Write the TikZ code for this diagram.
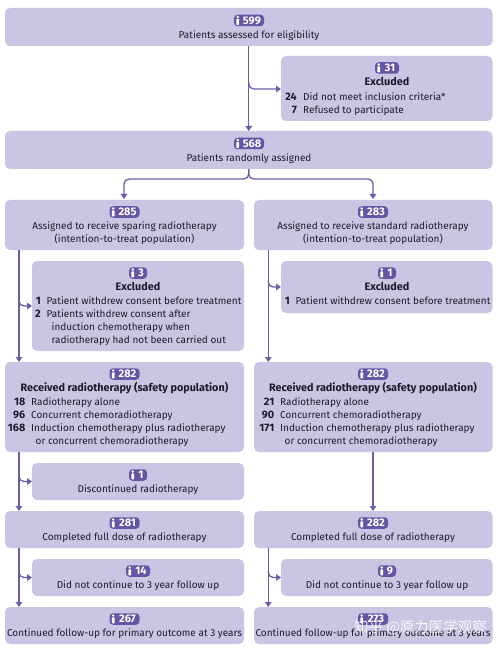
\documentclass[tikz,border=0pt]{standalone}
\usepackage{fontspec}
\setmainfont{Fira Sans}[Scale=1]
\newfontfamily\cjkfont{Noto Sans CJK SC}
\usetikzlibrary{arrows.meta,calc}
\definecolor{boxfill}{HTML}{CAC5E2}
\definecolor{linecol}{HTML}{6A5CA6}
\definecolor{badgecol}{HTML}{6655A5}
\definecolor{inkcol}{HTML}{1E1A30}
\tikzset{
  x=1pt,y=-1pt,
  panel/.style={fill=boxfill,rounded corners=5pt,inner sep=0pt,outer sep=0pt},
  badge/.style={fill=badgecol,rounded corners=3.5pt,text=white,font=\fontsize{11}{11}\selectfont\bfseries,inner sep=0pt,minimum height=11.5pt,text height=7.5pt,text depth=0pt,align=left},
  tx/.style={font=\fontsize{10}{11}\selectfont,text=inkcol,inner sep=0pt,text height=7pt,text depth=0pt},
  txb/.style={tx,font=\fontsize{10.8}{11}\selectfont\bfseries},
  num/.style={txb,anchor=base east},
  item/.style={tx,anchor=base west},
  flow/.style={draw=linecol,line width=1.3pt,rounded corners=5pt,-{Triangle[length=5pt,width=6.5pt]}},
}
\newcommand{\panel}[5]{\path[panel] (#2,#3) rectangle (#4,#5);
  \coordinate (#1) at ($(#2,#3)!0.5!(#4,#5)$);
  \coordinate (#1 t) at ($(#2,#3)!0.5!(#4,#3)$);
  \coordinate (#1 b) at ($(#2,#5)!0.5!(#4,#5)$);
  \coordinate (#1 l) at ($(#2,#3)!0.5!(#2,#5)$);}
\newcommand{\mybadge}[4]{%
  \node[badge,minimum width=#4] (#1) at (#2) {\hspace*{6pt}#3};
  \fill[white] ($(#1.west)+(3.9,-3.5)$) circle (1.3pt);
  \fill[white,rounded corners=0.6pt] ($(#1.west)+(2.5,-1.6)$) rectangle ($(#1.west)+(5.3,4.3)$);}
\begin{document}
\begin{tikzpicture}
\useasboundingbox (0,0) rectangle (500,652);
\fill[white] (0,0) rectangle (500,652);

\panel{p599}{5}{8}{492.5}{46}
\panel{e31}{281}{56}{492.5}{121}
\panel{p568}{5}{131}{492.5}{169}
\panel{p285}{5}{200}{244}{250}
\panel{p283}{254}{200}{492.5}{250}
\panel{e3}{32}{261}{244}{351}
\panel{e1}{281}{261}{492.5}{313}
\panel{rL}{5}{362}{244}{452}
\panel{rR}{254}{362}{492.5}{452}
\panel{dL}{32}{463}{244}{500}
\panel{cL}{5}{511}{244}{548}
\panel{cR}{254}{511}{492.5}{548}
\panel{fL}{32}{559}{244}{596}
\panel{fR}{281}{559}{492.5}{596}
\panel{oL}{5}{607}{244}{644}
\panel{oR}{254}{607}{492.5}{644}

% connectors
\coordinate (xL) at (19,0);
\coordinate (xR) at (268.3,0);
\draw[flow] (p599 b) -- (p568 t);
\draw[flow] ($(p599 b)+(0,36)$) |- (e31 l |- 0,89);
\draw[flow] (p568 b) -- ++(0,10) -| (124,199);
\draw[flow] (p568 b) -- ++(0,10) -| (373,199);
\draw[flow] (p285 b -| xL) -- (rL t -| xL);
\draw[flow] (19,300) |- (e3 l |- 0,306);
\draw[flow] (p283 b -| xR) -- (rR t -| xR);
\draw[flow] (268.3,281) |- (e1 l |- 0,287);
\draw[flow] (rL b -| xL) -- (cL t -| xL);
\draw[flow] (19,475) |- (dL l);
\draw[flow] (rR b) ++(-0.2,0) -- ($(cR t)+(-0.2,0)$);
\draw[flow] (cL b -| xL) -- (oL t -| xL);
\draw[flow] (19,571) |- (fL l);
\draw[flow] (cR b -| xR) -- (oR t -| xR);
\draw[flow] (268.3,571) |- (fR l);

% badges and text
\mybadge{b599}{249,20.5}{599}{30pt}
\node[tx] (t599) at (249,35) {Patients assessed for eligibility};

\mybadge{b31}{387,68}{31}{24pt}
\node[txb] (h31) at (387,82.5) {Excluded};
\node[num] (n24) at (297,100.5) {24};
\node[item] (i24) at (303,100.5) {Did not meet inclusion criteria*};
\node[num] (n7) at (297,113.5) {7};
\node[item] (i7) at (303,113.5) {Refused to participate};

\mybadge{b568}{249,143.5}{568}{30pt}
\node[tx] (t568) at (249,158) {Patients randomly assigned};

\mybadge{b285}{124.5,212}{285}{30pt}
\node[tx] (t285a) at (124.5,226) {Assigned to receive sparing radiotherapy};
\node[tx] (t285b) at (124.5,239) {(intention-to-treat population)};

\mybadge{b283}{373,212}{283}{30pt}
\node[tx] (t283a) at (373,226) {Assigned to receive standard radiotherapy};
\node[tx] (t283b) at (373,239) {(intention-to-treat population)};

\mybadge{b3}{138,273}{3}{18pt}
\node[txb] (h3) at (138,287) {Excluded};
\node[num] (n1a) at (41,304.5) {1};
\node[item] (i1a) at (46.5,304.5) {Patient withdrew consent before treatment};
\node[num] (n2a) at (41,317.5) {2};
\node[item] (i2a) at (46.5,317.5) {Patients withdrew consent after};
\node[item] (i2b) at (51.5,330.5) {induction chemotherapy when};
\node[item] (i2c) at (51.5,343.5) {radiotherapy had not been carried out};

\mybadge{b1r}{387,273}{1}{18pt}
\node[txb] (h1r) at (387,287) {Excluded};
\node[num] (n1r) at (290,304.5) {1};
\node[item] (i1r) at (295.5,304.5) {Patient withdrew consent before treatment};

\mybadge{b282l}{124.5,374}{282}{30pt}
\node[txb] (hrl) at (124.5,388) {Received radiotherapy (safety population)};
\node[num] (n18) at (25.5,405.5) {18};
\node[item] (i18) at (31,405.5) {Radiotherapy alone};
\node[num] (n96) at (25.5,418.5) {96};
\node[item] (i96) at (31,418.5) {Concurrent chemoradiotherapy};
\node[num] (n168) at (25.5,431.5) {168};
\node[item] (i168) at (31,431.5) {Induction chemotherapy plus radiotherapy};
\node[item] (i168b) at (35.5,444.5) {or concurrent chemoradiotherapy};

\mybadge{b282r}{373,374}{282}{30pt}
\node[txb] (hrr) at (373,388) {Received radiotherapy (safety population)};
\node[num] (n21) at (274.5,405.5) {21};
\node[item] (i21) at (280,405.5) {Radiotherapy alone};
\node[num] (n90) at (274.5,418.5) {90};
\node[item] (i90) at (280,418.5) {Concurrent chemoradiotherapy};
\node[num] (n171) at (274.5,431.5) {171};
\node[item] (i171) at (280,431.5) {Induction chemotherapy plus radiotherapy};
\node[item] (i171b) at (284.5,444.5) {or concurrent chemoradiotherapy};

\mybadge{b1d}{138,475}{1}{18pt}
\node[tx] (tdl) at (138,489) {Discontinued radiotherapy};

\mybadge{b281}{124.5,523}{281}{30pt}
\node[tx] (tcl) at (124.5,537) {Completed full dose of radiotherapy};
\mybadge{b282c}{373,523}{282}{30pt}
\node[tx] (tcr) at (373,537) {Completed full dose of radiotherapy};

\mybadge{b14}{138,571}{14}{24pt}
\node[tx] (tfl) at (138,585) {Did not continue to 3 year follow up};
\mybadge{b9}{387,571}{9}{18pt}
\node[tx] (tfr) at (387,585) {Did not continue to 3 year follow up};

\mybadge{b267}{124.5,619}{267}{30pt}
\node[tx] (tol) at (124.5,633) {Continued follow-up for primary outcome at 3 years};
\mybadge{b273}{373,619}{273}{30pt}
\node[tx] (tor) at (373,633) {Continued follow-up for primary outcome at 3 years};

% watermark
\node[text=white,text opacity=0.85,inner sep=0,font=\cjkfont\fontsize{14.5}{14.5}\selectfont] (wm) at (420.5,628) {知乎 @原力医学观察};
\end{tikzpicture}
\end{document}
